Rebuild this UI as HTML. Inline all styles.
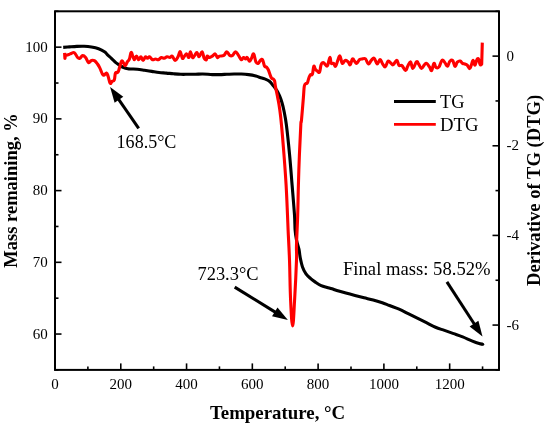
<!DOCTYPE html>
<html><head><meta charset="utf-8"><style>
html,body{margin:0;padding:0;background:#fff;}
svg{display:block;}
text{font-family:"Liberation Serif","Times New Roman",serif;fill:#000;}
</style></head><body>
<svg width="550" height="427" viewBox="0 0 550 427">
<rect width="550" height="427" fill="#fff"/>
<path d="M63.20,47.40 C64.25,47.32 67.23,47.07 69.50,46.90 C71.77,46.73 74.37,46.50 76.80,46.40 C79.23,46.30 81.67,46.20 84.10,46.30 C86.53,46.40 88.98,46.60 91.40,47.00 C93.82,47.40 96.42,47.92 98.60,48.70 C100.78,49.48 103.05,50.72 104.50,51.70 C105.95,52.68 106.15,53.50 107.30,54.60 C108.45,55.70 110.03,57.00 111.40,58.30 C112.77,59.60 114.13,61.25 115.50,62.40 C116.87,63.55 118.23,64.32 119.60,65.20 C120.97,66.08 122.33,67.10 123.70,67.70 C125.07,68.30 126.43,68.58 127.80,68.80 C129.17,69.02 130.32,68.92 131.90,69.00 C133.48,69.08 135.20,69.08 137.30,69.30 C139.40,69.52 142.08,69.95 144.50,70.30 C146.92,70.65 149.37,71.03 151.80,71.40 C154.23,71.77 156.67,72.22 159.10,72.50 C161.53,72.78 163.98,72.88 166.40,73.10 C168.82,73.32 171.18,73.60 173.60,73.80 C176.02,74.00 178.47,74.22 180.90,74.30 C183.33,74.38 185.77,74.30 188.20,74.30 C190.63,74.30 193.08,74.35 195.50,74.30 C197.92,74.25 199.90,73.95 202.70,74.00 C205.50,74.05 209.50,74.50 212.30,74.60 C215.10,74.70 217.08,74.65 219.50,74.60 C221.92,74.55 224.37,74.40 226.80,74.30 C229.23,74.20 231.67,74.05 234.10,74.00 C236.53,73.95 238.98,73.90 241.40,74.00 C243.82,74.10 246.18,74.27 248.60,74.60 C251.02,74.93 254.00,75.52 255.90,76.00 C257.80,76.48 258.53,77.02 260.00,77.50 C261.47,77.98 263.13,78.28 264.70,78.90 C266.27,79.52 268.00,80.10 269.40,81.20 C270.80,82.30 271.85,83.93 273.10,85.50 C274.35,87.07 275.80,88.82 276.90,90.60 C278.00,92.38 278.85,94.17 279.70,96.20 C280.55,98.23 281.30,100.42 282.00,102.80 C282.70,105.18 283.17,106.80 283.90,110.50 C284.63,114.20 285.45,117.58 286.40,125.00 C287.35,132.42 288.65,145.00 289.60,155.00 C290.55,165.00 291.28,175.00 292.10,185.00 C292.92,195.00 294.00,207.50 294.50,215.00 C295.00,222.50 294.77,225.83 295.10,230.00 C295.43,234.17 295.85,236.77 296.50,240.00 C297.15,243.23 298.38,246.48 299.00,249.40 C299.62,252.32 299.62,254.58 300.20,257.50 C300.78,260.42 301.53,264.17 302.50,266.90 C303.47,269.63 304.63,271.95 306.00,273.90 C307.37,275.85 309.13,277.23 310.70,278.60 C312.27,279.97 313.65,280.93 315.40,282.10 C317.15,283.27 319.25,284.72 321.20,285.60 C323.15,286.48 325.30,286.87 327.10,287.40 C328.90,287.93 330.38,288.28 332.00,288.80 C333.62,289.32 334.48,289.78 336.80,290.50 C339.12,291.22 342.87,292.27 345.90,293.10 C348.93,293.93 351.97,294.72 355.00,295.50 C358.03,296.28 361.07,297.05 364.10,297.80 C367.13,298.55 370.17,299.18 373.20,300.00 C376.23,300.82 379.58,301.78 382.30,302.70 C385.02,303.62 386.70,304.43 389.50,305.50 C392.30,306.57 395.98,307.75 399.10,309.10 C402.22,310.45 405.17,312.08 408.20,313.60 C411.23,315.12 414.27,316.68 417.30,318.20 C420.33,319.72 423.37,321.18 426.40,322.70 C429.43,324.22 432.48,326.02 435.50,327.30 C438.52,328.58 441.48,329.35 444.50,330.40 C447.52,331.45 450.57,332.52 453.60,333.60 C456.63,334.68 459.67,335.68 462.70,336.90 C465.73,338.12 469.07,339.78 471.80,340.90 C474.53,342.02 477.28,343.05 479.10,343.60 C480.92,344.15 482.10,344.10 482.70,344.20" fill="none" stroke="#000" stroke-width="3.1" stroke-linejoin="round" stroke-linecap="butt"/>
<circle cx="482.7" cy="344.2" r="1.55" fill="#000"/>
<path d="M64.60,52.80 C64.66,53.90 64.74,57.90 64.90,58.30 C65.06,58.70 65.32,55.34 65.40,54.80 C65.48,54.26 64.60,55.66 65.30,55.60 C66.00,55.54 67.74,54.92 68.90,54.50 C70.06,54.08 70.00,53.86 71.10,53.50 C72.20,53.14 73.10,51.90 74.40,52.70 C75.70,53.50 76.52,56.40 77.60,57.50 C78.68,58.60 78.78,58.58 79.80,58.20 C80.82,57.82 81.54,55.74 82.70,55.60 C83.86,55.46 84.44,56.12 85.60,57.50 C86.76,58.88 87.32,61.92 88.50,62.50 C89.68,63.08 90.32,60.76 91.50,60.40 C92.68,60.04 93.20,59.98 94.40,60.70 C95.60,61.42 96.40,62.52 97.50,64.00 C98.60,65.48 98.76,65.88 99.90,68.10 C101.04,70.32 101.88,74.12 103.20,75.10 C104.52,76.08 105.52,72.76 106.50,73.00 C107.48,73.24 107.36,74.24 108.10,76.30 C108.84,78.36 109.38,82.32 110.20,83.30 C111.02,84.28 111.38,81.86 112.20,81.20 C113.02,80.54 113.64,81.64 114.30,80.00 C114.96,78.36 114.76,74.56 115.50,73.00 C116.24,71.44 117.18,73.34 118.00,72.20 C118.82,71.06 118.88,69.52 119.60,67.30 C120.32,65.08 120.78,61.92 121.60,61.10 C122.42,60.28 122.96,62.28 123.70,63.20 C124.44,64.12 124.56,66.02 125.30,65.70 C126.04,65.38 126.58,62.92 127.40,61.60 C128.22,60.28 128.66,60.92 129.40,59.10 C130.14,57.28 130.40,53.02 131.10,52.50 C131.80,51.98 132.24,55.06 132.90,56.50 C133.56,57.94 133.68,59.78 134.40,59.70 C135.12,59.62 135.64,56.10 136.50,56.10 C137.36,56.10 137.82,59.56 138.70,59.70 C139.58,59.84 140.02,56.64 140.90,56.80 C141.78,56.96 142.22,60.50 143.10,60.50 C143.98,60.50 144.42,57.24 145.30,56.80 C146.18,56.36 146.64,58.30 147.50,58.30 C148.36,58.30 148.60,56.52 149.60,56.80 C150.60,57.08 151.32,59.26 152.50,59.70 C153.68,60.14 154.32,59.00 155.50,59.00 C156.68,59.00 157.24,60.00 158.40,59.70 C159.56,59.40 160.14,57.78 161.30,57.50 C162.46,57.22 163.04,58.44 164.20,58.30 C165.36,58.16 165.94,56.96 167.10,56.80 C168.26,56.64 168.98,57.64 170.00,57.50 C171.02,57.36 171.18,55.50 172.20,56.10 C173.22,56.70 173.94,60.36 175.10,60.50 C176.26,60.64 176.98,58.56 178.00,56.80 C179.02,55.04 179.32,51.40 180.20,51.70 C181.08,52.00 181.54,57.42 182.40,58.30 C183.26,59.18 183.64,56.98 184.50,56.10 C185.36,55.22 185.82,53.62 186.70,53.90 C187.58,54.18 188.16,57.94 188.90,57.50 C189.64,57.06 189.68,51.70 190.40,51.70 C191.12,51.70 191.64,56.76 192.50,57.50 C193.36,58.24 193.82,56.40 194.70,55.40 C195.58,54.40 196.02,52.22 196.90,52.50 C197.78,52.78 198.08,56.96 199.10,56.80 C200.12,56.64 200.98,51.40 202.00,51.70 C203.02,52.00 203.32,56.70 204.20,58.30 C205.08,59.90 205.80,60.14 206.40,59.70 C207.00,59.26 206.60,56.54 207.20,56.10 C207.80,55.66 208.38,57.50 209.40,57.50 C210.42,57.50 211.14,56.82 212.30,56.10 C213.46,55.38 214.18,53.62 215.20,53.90 C216.22,54.18 216.54,57.06 217.40,57.50 C218.26,57.94 218.20,56.52 219.50,56.10 C220.80,55.68 222.44,56.28 223.90,55.40 C225.36,54.52 225.64,51.70 226.80,51.70 C227.96,51.70 228.54,54.66 229.70,55.40 C230.86,56.14 231.44,56.14 232.60,55.40 C233.76,54.66 234.32,51.70 235.50,51.70 C236.68,51.70 237.32,53.80 238.50,55.40 C239.68,57.00 240.40,59.28 241.40,59.70 C242.40,60.12 242.64,57.64 243.50,57.50 C244.36,57.36 244.96,59.00 245.70,59.00 C246.44,59.00 246.46,57.06 247.20,57.50 C247.94,57.94 248.54,61.04 249.40,61.20 C250.26,61.36 250.64,59.76 251.50,58.30 C252.36,56.84 252.82,53.18 253.70,53.90 C254.58,54.62 255.02,60.00 255.90,61.90 C256.78,63.80 257.22,63.68 258.10,63.40 C258.98,63.12 259.42,61.24 260.30,60.50 C261.18,59.76 261.64,58.54 262.50,59.70 C263.36,60.86 263.80,64.84 264.60,66.30 C265.40,67.76 265.74,66.26 266.50,67.00 C267.26,67.74 267.46,67.90 268.40,70.00 C269.34,72.10 270.22,75.66 271.20,77.50 C272.18,79.34 272.62,78.50 273.30,79.20 C273.98,79.90 274.16,79.46 274.60,81.00 C275.04,82.54 274.86,83.48 275.50,86.90 C276.14,90.32 276.96,93.62 277.80,98.10 C278.64,102.58 278.96,103.92 279.70,109.30 C280.44,114.68 280.64,115.86 281.50,125.00 C282.36,134.14 283.08,143.00 284.00,155.00 C284.92,167.00 285.40,173.00 286.10,185.00 C286.80,197.00 287.10,206.00 287.50,215.00 C287.90,224.00 287.70,221.00 288.10,230.00 C288.50,239.00 289.00,246.00 289.50,260.00 C290.00,274.00 289.98,286.80 290.60,300.00 C291.22,313.20 291.80,326.00 292.60,326.00 C293.40,326.00 293.82,313.20 294.60,300.00 C295.38,286.80 296.12,271.00 296.50,260.00 C296.88,249.00 296.26,254.00 296.50,245.00 C296.74,236.00 297.32,227.00 297.70,215.00 C298.08,203.00 298.06,197.00 298.40,185.00 C298.74,173.00 298.92,167.00 299.40,155.00 C299.88,143.00 300.38,132.02 300.80,125.00 C301.22,117.98 300.98,125.40 301.50,119.90 C302.02,114.40 302.84,104.24 303.40,97.50 C303.96,90.76 303.82,88.98 304.30,86.20 C304.78,83.42 305.20,84.26 305.80,83.60 C306.40,82.94 306.72,83.92 307.30,82.90 C307.88,81.88 308.12,80.10 308.70,78.50 C309.28,76.90 309.46,75.76 310.20,74.90 C310.94,74.04 311.68,75.94 312.40,74.20 C313.12,72.46 313.22,67.22 313.80,66.20 C314.38,65.18 314.56,68.08 315.30,69.10 C316.04,70.12 316.64,70.72 317.50,71.30 C318.36,71.88 318.88,73.32 319.60,72.00 C320.32,70.68 320.36,66.60 321.10,64.70 C321.84,62.80 322.42,62.50 323.30,62.50 C324.18,62.50 324.64,64.10 325.50,64.70 C326.36,65.30 326.74,66.94 327.60,65.50 C328.46,64.06 329.06,57.94 329.80,57.50 C330.54,57.06 330.56,62.14 331.30,63.30 C332.04,64.46 332.64,62.72 333.50,63.30 C334.36,63.88 334.74,66.78 335.60,66.20 C336.46,65.62 336.92,62.44 337.80,60.40 C338.68,58.36 339.12,55.42 340.00,56.00 C340.88,56.58 341.18,62.42 342.20,63.30 C343.22,64.18 343.94,60.70 345.10,60.40 C346.26,60.10 346.98,60.94 348.00,61.80 C349.02,62.66 349.32,65.28 350.20,64.70 C351.08,64.12 351.54,59.62 352.40,58.90 C353.26,58.18 353.64,60.22 354.50,61.10 C355.36,61.98 355.68,63.60 356.70,63.30 C357.72,63.00 358.44,60.48 359.60,59.60 C360.76,58.72 361.32,59.04 362.50,58.90 C363.68,58.76 364.32,57.88 365.50,58.90 C366.68,59.92 367.24,63.70 368.40,64.00 C369.56,64.30 370.14,61.56 371.30,60.40 C372.46,59.24 373.04,57.48 374.20,58.20 C375.36,58.92 375.92,63.72 377.10,64.00 C378.28,64.28 379.06,59.74 380.10,59.60 C381.14,59.46 381.28,61.84 382.30,63.30 C383.32,64.76 384.04,67.34 385.20,66.90 C386.36,66.46 386.94,61.82 388.10,61.10 C389.26,60.38 389.98,62.58 391.00,63.30 C392.02,64.02 392.04,65.28 393.20,64.70 C394.36,64.12 395.64,60.24 396.80,60.40 C397.96,60.56 397.98,64.48 399.00,65.50 C400.02,66.52 400.60,64.50 401.90,65.50 C403.20,66.50 404.34,70.36 405.50,70.50 C406.66,70.64 406.68,67.94 407.70,66.20 C408.72,64.46 409.58,61.36 410.60,61.80 C411.62,62.24 411.62,68.40 412.80,68.40 C413.98,68.40 415.34,62.68 416.50,61.80 C417.66,60.92 417.60,62.68 418.60,64.00 C419.60,65.32 420.32,68.26 421.50,68.40 C422.68,68.54 423.48,65.72 424.50,64.70 C425.52,63.68 425.60,62.86 426.60,63.30 C427.60,63.74 428.48,65.46 429.50,66.90 C430.52,68.34 430.82,71.22 431.70,70.50 C432.58,69.78 433.02,63.88 433.90,63.30 C434.78,62.72 435.08,66.88 436.10,67.60 C437.12,68.32 437.84,68.34 439.00,66.90 C440.16,65.46 440.74,61.28 441.90,60.40 C443.06,59.52 443.68,61.32 444.80,62.50 C445.92,63.68 446.52,66.48 447.50,66.30 C448.48,66.12 448.68,62.78 449.70,61.60 C450.72,60.42 451.54,59.46 452.60,60.40 C453.66,61.34 454.06,65.94 455.00,66.30 C455.94,66.66 456.26,63.26 457.30,62.20 C458.34,61.14 459.14,60.76 460.20,61.00 C461.26,61.24 461.66,62.80 462.60,63.40 C463.54,64.00 463.98,63.66 464.90,64.00 C465.82,64.34 466.26,64.18 467.20,65.10 C468.14,66.02 468.78,68.60 469.60,68.60 C470.42,68.60 470.60,66.74 471.30,65.10 C472.00,63.46 472.38,60.40 473.10,60.40 C473.82,60.40 474.20,65.10 474.90,65.10 C475.60,65.10 475.90,61.68 476.60,60.40 C477.30,59.12 477.70,57.88 478.40,58.70 C479.10,59.52 479.44,63.40 480.10,64.50 C480.76,65.60 481.38,64.26 481.70,64.20 L482.3,42.6" fill="none" stroke="#f00" stroke-width="3.1" stroke-linejoin="round" stroke-linecap="butt"/>
<g stroke="#000" stroke-width="2" fill="none">
<rect x="55.0" y="11.3" width="444.0" height="358.59999999999997"/>
</g>
<g stroke="#000" stroke-width="1.6" fill="none">
<line x1="55.00" y1="369.9" x2="55.00" y2="363.4"/><line x1="87.89" y1="369.9" x2="87.89" y2="366.4"/><line x1="120.78" y1="369.9" x2="120.78" y2="363.4"/><line x1="153.67" y1="369.9" x2="153.67" y2="366.4"/><line x1="186.56" y1="369.9" x2="186.56" y2="363.4"/><line x1="219.44" y1="369.9" x2="219.44" y2="366.4"/><line x1="252.33" y1="369.9" x2="252.33" y2="363.4"/><line x1="285.22" y1="369.9" x2="285.22" y2="366.4"/><line x1="318.11" y1="369.9" x2="318.11" y2="363.4"/><line x1="351.00" y1="369.9" x2="351.00" y2="366.4"/><line x1="383.89" y1="369.9" x2="383.89" y2="363.4"/><line x1="416.78" y1="369.9" x2="416.78" y2="366.4"/><line x1="449.67" y1="369.9" x2="449.67" y2="363.4"/><line x1="482.56" y1="369.9" x2="482.56" y2="366.4"/><line x1="55.0" y1="369.90" x2="58.5" y2="369.90"/><line x1="55.0" y1="334.04" x2="61.5" y2="334.04"/><line x1="55.0" y1="298.18" x2="58.5" y2="298.18"/><line x1="55.0" y1="262.32" x2="61.5" y2="262.32"/><line x1="55.0" y1="226.46" x2="58.5" y2="226.46"/><line x1="55.0" y1="190.60" x2="61.5" y2="190.60"/><line x1="55.0" y1="154.74" x2="58.5" y2="154.74"/><line x1="55.0" y1="118.88" x2="61.5" y2="118.88"/><line x1="55.0" y1="83.02" x2="58.5" y2="83.02"/><line x1="55.0" y1="47.16" x2="61.5" y2="47.16"/><line x1="55.0" y1="11.30" x2="58.5" y2="11.30"/><line x1="499.0" y1="369.90" x2="495.5" y2="369.90"/><line x1="499.0" y1="325.07" x2="492.5" y2="325.07"/><line x1="499.0" y1="280.25" x2="495.5" y2="280.25"/><line x1="499.0" y1="235.42" x2="492.5" y2="235.42"/><line x1="499.0" y1="190.60" x2="495.5" y2="190.60"/><line x1="499.0" y1="145.78" x2="492.5" y2="145.78"/><line x1="499.0" y1="100.95" x2="495.5" y2="100.95"/><line x1="499.0" y1="56.12" x2="492.5" y2="56.12"/><line x1="499.0" y1="11.30" x2="495.5" y2="11.30"/>
</g>
<g font-size="15">
<text x="55.00" y="389" text-anchor="middle">0</text><text x="120.78" y="389" text-anchor="middle">200</text><text x="186.56" y="389" text-anchor="middle">400</text><text x="252.33" y="389" text-anchor="middle">600</text><text x="318.11" y="389" text-anchor="middle">800</text><text x="383.89" y="389" text-anchor="middle">1000</text><text x="449.67" y="389" text-anchor="middle">1200</text><text x="47.8" y="338.54" text-anchor="end">60</text><text x="47.8" y="266.82" text-anchor="end">70</text><text x="47.8" y="195.10" text-anchor="end">80</text><text x="47.8" y="123.38" text-anchor="end">90</text><text x="47.8" y="51.66" text-anchor="end">100</text><text x="506.5" y="60.62">0</text><text x="506.5" y="150.28">-2</text><text x="506.5" y="239.92">-4</text><text x="506.5" y="329.57">-6</text>
</g>
<text x="0" y="0" font-size="18.5" font-weight="bold" text-anchor="middle" transform="translate(16.5,190.5) rotate(-90)">Mass remaining, %</text>
<text x="0" y="0" font-size="18.6" font-weight="bold" text-anchor="middle" transform="translate(540,190.4) rotate(-90)">Derivative of TG (DTG)</text>
<text x="277.6" y="419" font-size="18.85" font-weight="bold" text-anchor="middle">Temperature, °C</text>
<g font-size="18.4">
<text x="116.6" y="147.6" font-size="18.05">168.5°C</text>
<text x="197.5" y="279.5">723.3°C</text>
<text x="343" y="274.5" font-size="18.65">Final mass: 58.52%</text>
<text x="440" y="108">TG</text>
<text x="440" y="131.1" font-size="18.7">DTG</text>
</g>
<line x1="394" y1="101.5" x2="435.8" y2="101.5" stroke="#000" stroke-width="2.8"/>
<line x1="394" y1="124.4" x2="435.8" y2="124.4" stroke="#f00" stroke-width="2.8"/>
<line x1="138.7" y1="128.3" x2="117.8" y2="98.2" stroke="#000" stroke-width="3.0"/><polygon points="110.1,87.1 123.3,96.8 114.6,102.8" fill="#000"/>
<line x1="234.7" y1="287.1" x2="276.4" y2="312.9" stroke="#000" stroke-width="3.0"/><polygon points="287.9,320.0 272.0,316.3 277.5,307.4" fill="#000"/>
<line x1="446.9" y1="281.9" x2="475.1" y2="325.3" stroke="#000" stroke-width="3.0"/><polygon points="482.5,336.6 469.6,326.5 478.4,320.7" fill="#000"/>
</svg>
</body></html>
